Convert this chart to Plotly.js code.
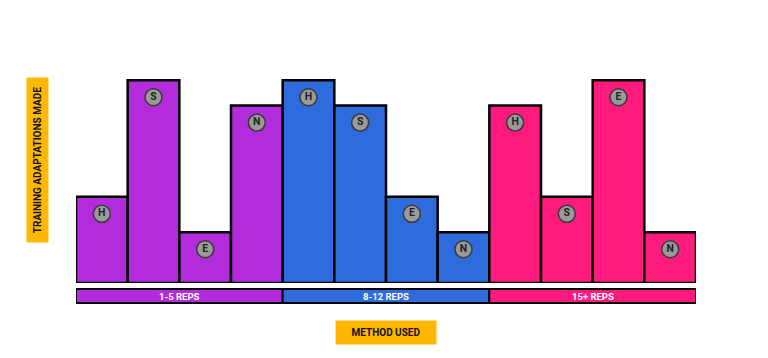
<!DOCTYPE html>
<html>
<head>
<meta charset="utf-8">
<script src="https://cdn.plot.ly/plotly-3.0.1.min.js"></script>
<style>html,body{margin:0;padding:0;background:#fff;}#chart{width:768px;height:358px;}</style>
</head>
<body>
<div id="chart"></div>
<script>
// Data
const groups = ["1-5 REPS", "8-12 REPS", "15+ REPS"];
const groupColors = ["#B22CDC", "#2E6BDC", "#FF1A7D"];
const letters = ["H", "S", "E", "N"];
const values1to5 = [1.7, 4, 1, 3.5];
const values8to12 = [4, 3.5, 1.7, 1];
const values15plus = [3.5, 1.7, 4, 1];
const groupValues = [values1to5, values8to12, values15plus];

const yMax = 4.4;
const plotTop = 60, plotBottom = 283;
const plotH = plotBottom - plotTop;
const plotW = 620;
const circleOffset = 17 * yMax / plotH;

const xs = [], ys = [], cols = [], labs = [];
groupValues.forEach((vals, g) => {
  vals.forEach((v, i) => {
    xs.push(g * letters.length + i);
    ys.push(v);
    cols.push(groupColors[g]);
    labs.push(letters[i]);
  });
});

const bars = {
  type: "bar", x: xs, y: ys, width: 1,
  marker: {color: cols, line: {color: "#000", width: 2.5}},
  hoverinfo: "skip", showlegend: false
};
const circles = {
  type: "scatter", mode: "markers+text",
  x: xs, y: ys.map(v => v - circleOffset), text: labs,
  textposition: "middle center",
  textfont: {family: "Roboto", size: 10.5, color: "#222", weight: "bold"},
  marker: {size: 17, color: "#9a9a9a", line: {color: "#3a3a3a", width: 1.5}},
  hoverinfo: "skip", showlegend: false, cliponaxis: false
};

const shapes = [], annotations = [];
groups.forEach((gname, g) => {
  const x0 = g * letters.length - 0.5, x1 = (g + 1) * letters.length - 0.5;
  shapes.push({type: "rect", xref: "x", yref: "paper", x0: x0, x1: x1,
    y0: -(303 - plotBottom) / plotH, y1: -(289 - plotBottom) / plotH,
    fillcolor: groupColors[g], line: {color: "#000", width: 2}});
  annotations.push({xref: "x", yref: "paper", x: (x0 + x1) / 2,
    y: -(296 - plotBottom) / plotH, xanchor: "center", yanchor: "middle",
    text: gname, showarrow: false,
    font: {family: "Roboto", size: 9.5, color: "#fff", weight: "bold"}});
});
annotations.push({xref: "paper", yref: "paper", x: (386 - 76) / plotW, y: -(332 - plotBottom) / plotH,
  xanchor: "center", yanchor: "middle",
  text: "METHOD USED", showarrow: false, bgcolor: "#FFB800",
  font: {family: "Roboto", size: 10, color: "#111", weight: "bold"}, borderpad: 6, width: 88});
annotations.push({xref: "paper", yref: "paper", x: (37 - 76) / plotW, y: (plotBottom - 160) / plotH,
  xanchor: "center", yanchor: "middle",
  text: "TRAINING ADAPTATIONS MADE", showarrow: false, textangle: -90, bgcolor: "#FFB800",
  font: {family: "Roboto", size: 10, color: "#111", weight: "bold"}, borderpad: 5, width: 154});

const layout = {
  width: 768, height: 358,
  margin: {l: 76, r: 72, t: plotTop, b: 358 - plotBottom},
  paper_bgcolor: "#fff", plot_bgcolor: "#fff",
  bargap: 0,
  xaxis: {range: [-0.5, 11.5], visible: false, fixedrange: true},
  yaxis: {range: [0, yMax], visible: false, fixedrange: true},
  shapes: shapes, annotations: annotations, showlegend: false
};
Plotly.newPlot("chart", [bars, circles], layout, {displayModeBar: false, staticPlot: true});
</script>
</body>
</html>
